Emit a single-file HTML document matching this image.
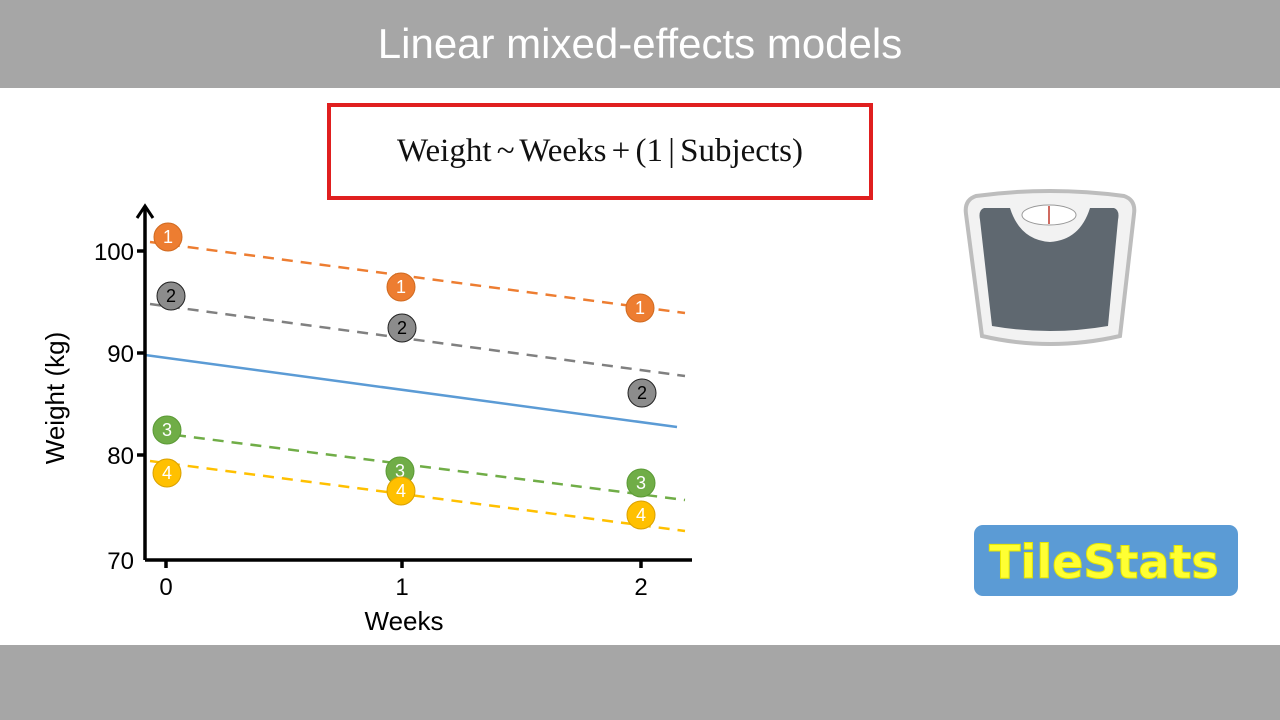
<!DOCTYPE html>
<html><head><meta charset="utf-8"><style>
body{margin:0;width:1280px;height:720px;overflow:hidden;background:#fff;font-family:"Liberation Sans",sans-serif;position:relative}
.top{position:absolute;left:0;top:0;width:1280px;height:88px;background:#a6a6a6;color:#fff;font-size:42px;text-align:center;line-height:88px;font-family:"Liberation Sans",sans-serif;font-weight:300}
.bot{position:absolute;left:0;top:645px;width:1280px;height:75px;background:#a6a6a6}
.box{position:absolute;left:327px;top:103px;width:538px;height:89px;border:4px solid #e01f1f;font-family:"Liberation Serif",serif;font-size:33px;text-align:center;line-height:89px;color:#111;word-spacing:-3px}
</style></head><body>
<div class="top">Linear mixed-effects models</div>
<div class="box">Weight ~ Weeks + (1 | Subjects)</div>
<svg width="1280" height="720" style="position:absolute;left:0;top:0">
<g stroke-width="2.5" fill="none">
<line x1="150" y1="242" x2="685" y2="313" stroke="#ed7d31" stroke-dasharray="11,8"/>
<line x1="150" y1="304" x2="685" y2="376" stroke="#808080" stroke-dasharray="11,8"/>
<line x1="145" y1="355" x2="677" y2="427" stroke="#5b9bd5"/>
<line x1="175" y1="435" x2="685" y2="500" stroke="#70ad47" stroke-dasharray="11,8"/>
<line x1="150" y1="461" x2="685" y2="531" stroke="#ffc000" stroke-dasharray="11,8"/>
</g>
<g stroke="#000" stroke-width="3.5" fill="none">
<line x1="145" y1="560" x2="692" y2="560"/>
<line x1="145" y1="560" x2="145" y2="208"/>
<polyline points="137,218 145,206 153,218" stroke-width="3"/>
<line x1="137" y1="251" x2="145" y2="251"/><line x1="137" y1="353" x2="145" y2="353"/><line x1="137" y1="455" x2="145" y2="455"/>
<line x1="166" y1="560" x2="166" y2="568"/><line x1="402" y1="560" x2="402" y2="568"/><line x1="641" y1="560" x2="641" y2="568"/>
</g>
<g font-size="24" fill="#000" font-family="Liberation Sans,sans-serif">
<text x="134" y="260" text-anchor="end">100</text>
<text x="134" y="362" text-anchor="end">90</text>
<text x="134" y="464" text-anchor="end">80</text>
<text x="134" y="569" text-anchor="end">70</text>
<text x="166" y="595" text-anchor="middle">0</text>
<text x="402" y="595" text-anchor="middle">1</text>
<text x="641" y="595" text-anchor="middle">2</text>
<text x="404" y="630" text-anchor="middle" font-size="26">Weeks</text>
<text transform="translate(64,398) rotate(-90)" text-anchor="middle" font-size="26">Weight (kg)</text>
</g>
<g font-size="18" text-anchor="middle" font-family="Liberation Sans,sans-serif">
<g fill="#ed7d31" stroke="#d06a20"><circle cx="168" cy="237" r="14"/><circle cx="401" cy="287" r="14"/><circle cx="640" cy="308" r="14"/></g>
<g fill="#fff"><text x="168" y="243">1</text><text x="401" y="293">1</text><text x="640" y="314">1</text></g>
<g fill="#8c8c8c" stroke="#222"><circle cx="171" cy="296" r="14"/><circle cx="402" cy="328" r="14"/><circle cx="642" cy="393" r="14"/></g>
<g fill="#000"><text x="171" y="302">2</text><text x="402" y="334">2</text><text x="642" y="399">2</text></g>
<g fill="#70ad47" stroke="#5a9a35"><circle cx="167" cy="430" r="14"/><circle cx="400" cy="471" r="14"/><circle cx="641" cy="483" r="14"/></g>
<g fill="#fff"><text x="167" y="436">3</text><text x="400" y="477">3</text><text x="641" y="489">3</text></g>
<g fill="#ffc000" stroke="#d9a000"><circle cx="167" cy="473" r="14"/><circle cx="401" cy="491" r="14"/><circle cx="641" cy="515" r="14"/></g>
<g fill="#fff"><text x="167" y="479">4</text><text x="401" y="497">4</text><text x="641" y="521">4</text></g>
</g>
<!-- scale -->
<path d="M976,196 Q1050,186 1124,196 Q1136,200 1134,214 L1120,336 Q1050,352 982,336 L966,214 Q964,200 976,196 Z" fill="#f2f2f2" stroke="#bdbdbd" stroke-width="4"/>
<path d="M984,208 L1010,208 Q1020,240 1050,242 Q1080,240 1090,208 L1114,208 Q1120,210 1118,220 L1108,326 Q1050,336 992,326 L980,220 Q978,210 984,208 Z" fill="#5f6870"/>
<ellipse cx="1049" cy="215" rx="27" ry="10" fill="#fff" stroke="#999"/>
<line x1="1049" y1="206" x2="1049" y2="224" stroke="#c0392b" stroke-width="1.5"/>
<!-- logo -->
<rect x="974" y="525" width="264" height="71" rx="9" fill="#5b9bd5"/>
<text x="1104" y="578" text-anchor="middle" font-family="DejaVu Sans,sans-serif" font-weight="bold" font-size="46" fill="#ffff33" stroke="#e6e600" stroke-width="1">TileStats</text>
</svg>
<div class="bot"></div>
</body></html>
